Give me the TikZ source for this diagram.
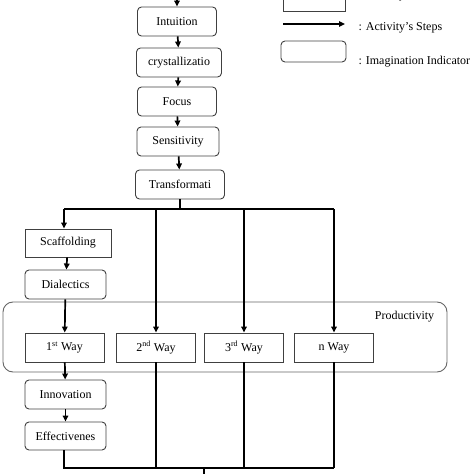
\documentclass[tikz,border=0pt]{standalone}
\usepackage{fontspec}
\setmainfont{Liberation Serif}
\usetikzlibrary{arrows.meta}

\begin{document}
\begin{tikzpicture}[x=1pt,y=1pt,
  boxfont/.style={font=\fontsize{12}{14}\selectfont},
  indicator/.style={draw=black!75,rounded corners=4pt,line width=0.9pt,minimum height=29pt,inner sep=1pt,boxfont},
  activity/.style={draw=black!75,line width=0.9pt,minimum height=29pt,inner sep=1pt,boxfont},
  steparrow/.style={-{Triangle[length=6pt,width=5.5pt]},line width=1.7pt},
  stepline/.style={line width=1.7pt}]
\useasboundingbox (0,0) rectangle (474,474);

% Legend (top right)
\node[activity,minimum width=62pt,minimum height=30pt] (legAct) at (314,478) {};
\node[boxfont,anchor=base west] (legActText) at (355,475) {: Activity};
\coordinate (legA) at (283,450);
\coordinate (legB) at (345,450);
\draw[steparrow] (legA) -- (legB);
\node[boxfont,anchor=base west] (legStepText) at (355,443) {: Activity's Steps};
\node[indicator,minimum width=65pt,minimum height=21pt] (legInd) at (313.5,422.5) {};
\node[boxfont,anchor=base west] (legIndText) at (355,409) {: Imagination Indicator};

% Main chain
\coordinate (start) at (177,482);
\node[indicator,minimum width=79pt] (intuition) at (177,452.5) {Intuition};
\node[indicator,minimum width=85pt] (crystal) at (179,411.5) {crystallizatio};
\node[indicator,minimum width=79pt] (focus) at (177,372.5) {Focus};
\node[indicator,minimum width=82pt] (sensitivity) at (178,332.5) {Sensitivity};
\node[indicator,minimum width=89pt] (transform) at (180,289.5) {Transformati};

\draw[steparrow] (start) -- (intuition);
\draw[steparrow] (intuition) -- (crystal);
\draw[steparrow] (crystal) -- (focus);
\draw[steparrow] (focus) -- (sensitivity);
\draw[steparrow] (sensitivity) -- (transform);

% Productivity frame
\draw[black!60,line width=0.9pt,rounded corners=10pt] (3,102) rectangle (447,172);
\node[boxfont] (productivity) at (404.5,157) {Productivity};

% Left branch
\node[activity,minimum width=86pt,minimum height=28pt] (scaffold) at (68,231) {Scaffolding};
\node[indicator,minimum width=81pt] (dialectics) at (65.5,189.5) {Dialectics};
\node[activity,minimum width=79pt] (way1) at (64.5,126.5) {1\textsuperscript{st} Way};
\node[activity,minimum width=79pt] (way2) at (156,126.5) {2\textsuperscript{nd} Way};
\node[activity,minimum width=79pt] (way3) at (244,126.5) {3\textsuperscript{rd} Way};
\node[activity,minimum width=79pt] (wayn) at (334,126.5) {n Way};
\node[indicator,minimum width=81pt] (innovation) at (65.5,79.5) {Innovation};
\node[indicator,minimum width=81pt,minimum height=28pt] (effective) at (65.5,38) {Effectivenes};

% Split after transformation
\coordinate (split) at (180,265);
\coordinate (splitL) at (64,265);
\draw[stepline] (transform) -- (split);
\draw[stepline] (splitL) -- (wayn.north |- split);
\draw[steparrow] (splitL) -- (splitL |- scaffold.north);
\draw[steparrow] (way2.north |- split) -- (way2.north);
\draw[steparrow] (way3.north |- split) -- (way3.north);
\draw[steparrow] (wayn.north |- split) -- (wayn.north);

\draw[steparrow] (scaffold) -- (dialectics);
\draw[steparrow] (dialectics) -- (way1);
\draw[steparrow] (way1) -- (innovation);
\draw[steparrow] (innovation) -- (effective);

% Join at the bottom
\coordinate (join) at (204,6);
\coordinate (joinL) at (64,6);
\coordinate (finish) at (204,-8);
\draw[stepline] (effective.south -| joinL) -- (joinL) -- (wayn.south |- join);
\draw[stepline] (way2.south) -- (way2.south |- join);
\draw[stepline] (way3.south) -- (way3.south |- join);
\draw[stepline] (wayn.south) -- (wayn.south |- join);
\draw[steparrow] (join) -- (finish);
\end{tikzpicture}
\end{document}
